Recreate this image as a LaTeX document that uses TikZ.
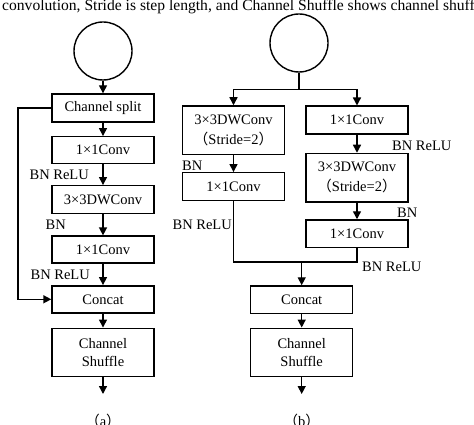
\documentclass[tikz,border=0pt]{standalone}
\usepackage{fontspec}
\setmainfont{Liberation Serif}
\newfontfamily\cjk{Noto Sans CJK SC}
\usetikzlibrary{arrows.meta}
\begin{document}
\begin{tikzpicture}[x=1pt,y=-1pt,
  every node/.style={font=\fontsize{14.5}{19}\selectfont, inner sep=0pt},
  box/.style={draw, line width=1.4pt, minimum width=102pt, align=center},
  ring/.style={draw, circle, line width=1.4pt, minimum size=58pt},
  conn/.style={line width=1.4pt},
  arr/.style={conn, -{Triangle[width=8pt,length=8pt]}},
  lbl/.style={}]
\useasboundingbox (0,0) rectangle (474,425);
\begin{scope}
\clip (0,0) rectangle (474,425);
\node[anchor=base west, font=\fontsize{15.6}{19}\selectfont] (cap) at (2,10.5) {convolution, Stride is step length, and Channel Shuffle shows channel shuffle};
% ---------- (a)
\node[ring] (ca) at (103,51) {};
\node[box, minimum height=28pt] (split) at (103,108) {Channel split};
\node[box, minimum height=26.5pt] (aconv1) at (103,150) {1×1Conv};
\node[box, minimum height=27.5pt] (adw) at (103,199.5) {3×3DWConv};
\node[box, minimum height=27pt] (aconv2) at (103,249.6) {1×1Conv};
\node[box, minimum height=27pt] (aconcat) at (103,299.3) {Concat};
\node[box, minimum height=48.5pt, text width=90pt] (ashuf) at (103,352.5) {Channel\\[-1pt]Shuffle};
\coordinate (aout) at (103,394);
\coordinate (skipT) at (18,108);
\coordinate (skipB) at (18,299.3);
\node[lbl, anchor=east] (la1) at (89,175) {BN ReLU};
\node[lbl, anchor=east] (la2) at (66,225) {BN};
\node[lbl, anchor=east] (la3) at (90,275) {BN ReLU};
\node (capa) at (103,420.5) {{\cjk（}a{\cjk）}};
\draw[arr] (ca) -- (split);
\draw[arr] (split) -- (aconv1);
\draw[arr] (aconv1) -- (adw);
\draw[arr] (adw) -- (aconv2);
\draw[arr] (aconv2) -- (aconcat);
\draw[arr] (aconcat) -- (ashuf);
\draw[arr] (ashuf) -- (aout);
\draw[arr] (split.west) -- (skipT) -- (skipB) -- (aconcat.west);
% ---------- (b)
\node[ring] (cb) at (299,43) {};
\coordinate (bar) at (299,89.5);
\coordinate (barL) at (233.5,89.5);
\coordinate (barR) at (357,89.5);
\node[box, minimum height=48.5pt] (bdwL) at (233.5,130.2) {3×3DWConv\\[1pt]{\cjk（}Stride=2{\cjk）}};
\node[box, minimum height=27.5pt] (bconvL) at (233.5,186.5) {1×1Conv};
\node[box, minimum height=28pt] (bconvR1) at (357,120.2) {1×1Conv};
\node[box, minimum height=48.5pt] (bdwR) at (357,177.7) {3×3DWConv\\[1pt]{\cjk（}Stride=2{\cjk）}};
\node[box, minimum height=27.5pt] (bconvR2) at (357,233.7) {1×1Conv};
\coordinate (mL) at (233.5,262);
\coordinate (mR) at (357,262);
\coordinate (mC) at (301.7,262);
\node[box, minimum height=27.5pt] (bconcat) at (301.7,299.7) {Concat};
\node[box, minimum height=48.5pt, text width=90pt] (bshuf) at (301.7,352.5) {Channel\\[-1pt]Shuffle};
\coordinate (bout) at (301.7,394);
\node[lbl, anchor=west] (lb1) at (182,166) {BN};
\node[lbl, anchor=west] (lb2) at (392,146) {BN ReLU};
\node[lbl, anchor=west] (lb3) at (397,213) {BN};
\node[lbl, anchor=east] (lb4) at (232,225) {BN ReLU};
\node[lbl, anchor=west] (lb5) at (362,267) {BN ReLU};
\node (capb) at (301.7,420.5) {{\cjk（}b{\cjk）}};
\draw[conn] (cb) -- (bar);
\draw[arr] (barR) -- (barL) -- (bdwL);
\draw[arr] (bar) -- (barR) -- (bconvR1);
\draw[arr] (bdwL) -- (bconvL);
\draw[arr] (bconvR1) -- (bdwR);
\draw[arr] (bdwR) -- (bconvR2);
\draw[conn] (bconvL) -- (mL) -- (mR) -- (bconvR2);
\draw[arr] (mC) -- (bconcat);
\draw[arr] (bconcat) -- (bshuf);
\draw[arr] (bshuf) -- (bout);
\end{scope}
\end{tikzpicture}
\end{document}
